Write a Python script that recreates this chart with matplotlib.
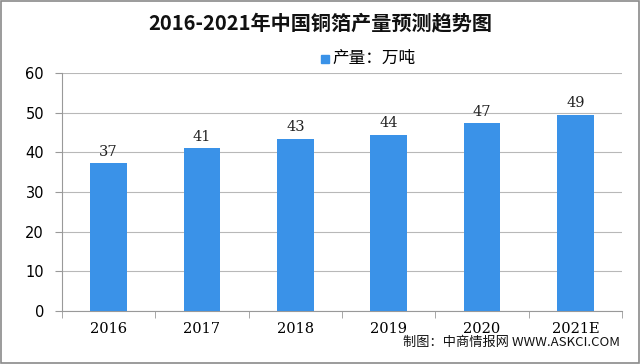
import matplotlib
matplotlib.use('Agg')

import numpy as np
import matplotlib.pyplot as plt
from matplotlib.patches import Rectangle

plt.rcParams['font.family'] = ['Noto Sans CJK SC', 'DejaVu Sans']

# 数据
years = ['2016', '2017', '2018', '2019', '2020', '2021E']
output = [37.2, 41.0, 43.3, 44.4, 47.3, 49.4]
yticks = [0, 10, 20, 30, 40, 50, 60]

bar_color = '#3a92e8'
grid_color = '#b8b8b8'

fig = plt.figure(figsize=(6.4, 3.64), dpi=100)
ax = fig.add_axes([62 / 640, 1 - 311 / 364, 560 / 640, 238 / 364])

x = np.arange(len(years))
bars = ax.bar(x, output, width=0.39, color=bar_color, zorder=3)

# 数值标签
for xi, v in zip(x, output):
    ax.text(xi, v + 1.2, f'{v:.0f}', ha='center', va='bottom',
            fontsize=10.5, family='DejaVu Serif', color='#222222')

ax.set_xlim(-0.5, len(years) - 0.5)
ax.set_ylim(0, 60)
ax.set_yticks(yticks)
ax.set_yticklabels([str(t) for t in yticks], fontsize=10.5, family='DejaVu Sans')
ax.yaxis.grid(True, color=grid_color, linewidth=0.8, zorder=0)

# x 轴：刻度在类别之间
ax.set_xticks(x)
ax.set_xticklabels(years, fontsize=10.5, family='DejaVu Serif')
ax.tick_params(axis='x', length=0, pad=8)
ax.set_xticks(np.arange(-0.5, len(years)), minor=True)
ax.tick_params(axis='x', which='minor', length=5, color='#999999', direction='out')
ax.tick_params(axis='y', length=5, color='#999999', pad=8)

for s in ['top', 'right']:
    ax.spines[s].set_visible(False)
for s in ['left', 'bottom']:
    ax.spines[s].set_color('#999999')

# 标题
fig.text(0.5, 1 - 23 / 364, '2016-2021年中国铜箔产量预测趋势图', ha='center', va='center',
         fontsize=14.5, fontweight='bold', color='#111111')

# 图例
fig.patches.append(Rectangle((321 / 640, 1 - 63 / 364), 8 / 640, 8 / 364,
                             transform=fig.transFigure, color=bar_color))
fig.text(332 / 640, 1 - 58 / 364, '产量：万吨', ha='left', va='center', fontsize=12)

# 来源
fig.text(620 / 640, 1 - 342 / 364, '制图：中商情报网 WWW.ASKCI.COM', ha='right', va='center',
         fontsize=9.5, color='#111111')

# 外框
fig.patches.append(Rectangle((0.002, 0.003), 0.996, 0.994, transform=fig.transFigure,
                             fill=False, edgecolor='#8a8a8a', linewidth=1.2))

fig.savefig('out.png', dpi=100)
